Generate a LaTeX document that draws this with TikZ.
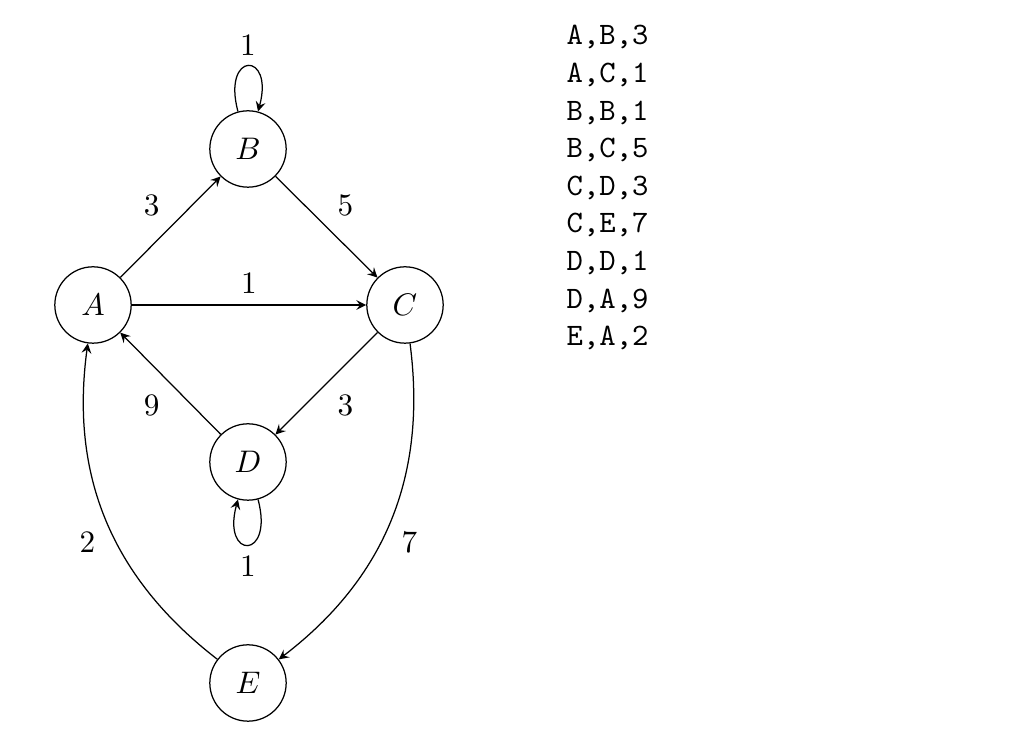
\documentclass[tikz,border=0pt]{standalone}
\usetikzlibrary{arrows}
\begin{document}
\begin{tikzpicture}[x=0.01126cm,y=0.01126cm,>=stealth,
  vertex/.style={draw,circle,minimum size=0.86cm,inner sep=0pt},
  edgelbl/.style={auto},
  listline/.style={anchor=base west,inner sep=0pt,font=\ttfamily}]
\useasboundingbox (0,0) rectangle (1024,742);
\node[vertex] (A) at (93,437) {$A$};
\node[vertex] (B) at (248,593) {$B$};
\node[vertex] (C) at (405,437) {$C$};
\node[vertex] (D) at (248,280) {$D$};
\node[vertex] (E) at (248,59) {$E$};
\draw[->] (A) to node[edgelbl] {3} (B);
\draw[->] (A) to node[edgelbl] {1} (C);
\draw[->] (B) to[loop above] node[edgelbl] {1} (B);
\draw[->] (B) to node[edgelbl] {5} (C);
\draw[->] (C) to node[edgelbl] {3} (D);
\draw[->] (C) to[bend left=30] node[edgelbl] {7} (E);
\draw[->] (D) to[loop below] node[edgelbl] {1} (D);
\draw[->] (D) to node[edgelbl] {9} (A);
\draw[->] (E) to[bend left=30] node[edgelbl] {2} (A);
\foreach \t [count=\i] in {{A,B,3},{A,C,1},{B,B,1},{B,C,5},{C,D,3},{C,E,7},{D,D,1},{D,A,9},{E,A,2}}
  \node[listline] (l\i) at (566,{697-37.6*(\i-1)}) {\t};
\end{tikzpicture}
\end{document}
